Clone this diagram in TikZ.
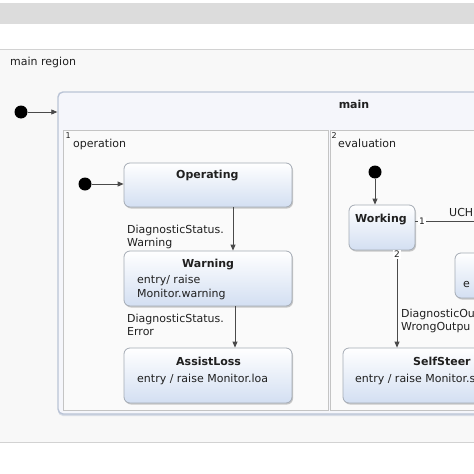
\documentclass[tikz,border=0pt]{standalone}
\usepackage{fontspec}
\setmainfont{DejaVu Sans}
\usetikzlibrary{arrows.meta,shadows}
\definecolor{barcol}{HTML}{DCDCDC}
\definecolor{regbg}{HTML}{F8F8F8}
\definecolor{regline}{HTML}{D2D2D2}
\definecolor{mainbg}{HTML}{F5F6FB}
\definecolor{mainline}{HTML}{BAC4D6}
\definecolor{subreg}{HTML}{FAFAFA}
\definecolor{subline}{HTML}{C4C4C4}
\definecolor{stateline}{HTML}{A4ABB5}
\definecolor{statebot}{HTML}{D3DFF2}
\definecolor{trcol}{HTML}{4A4A4A}
\definecolor{txt}{HTML}{202020}
\tikzset{
  txtstyle/.style={inner sep=0pt, anchor=base west, text=txt, font=\fontsize{11}{13.5}\selectfont},
  boldtxt/.style={txtstyle, font=\fontsize{11}{13.5}\selectfont\bfseries},
  supstyle/.style={inner sep=0pt, anchor=base west, text=txt, font=\fontsize{8}{9}\selectfont},
  statebox/.style={draw=stateline, line width=0.8pt, rounded corners=6pt, top color=white, bottom color=statebot,
     inner sep=0pt, drop shadow={shadow xshift=1pt, shadow yshift=-1.5pt, fill=black!35, opacity=0.6}},
  initdot/.style={circle, fill=black, inner sep=0pt, minimum size=13pt},
  tr/.style={draw=trcol, line width=0.8pt, -{Triangle[length=6pt,width=5pt]}},
  trplain/.style={draw=trcol, line width=0.8pt},
  numlab/.style={fill=white, inner sep=1pt, text=txt, font=\fontsize{9}{10}\selectfont},
}
\begin{document}
\begin{tikzpicture}[x=1pt,y=-1pt]
\useasboundingbox (0,0) rectangle (474,474);
\clip (0,0) rectangle (474,474);
\fill[white] (0,0) rectangle (474,474);
% top bar
\fill[barcol] (-5,3) rectangle (480,24);
% main region
\node[draw=regline, fill=regbg, line width=1pt, minimum width=490pt, minimum height=393pt, inner sep=0pt] (mainregion) at (235,245.5) {};
\node[txtstyle] (mainregionlab) at (10,65) {main region};
% main state
\node[draw=mainline, fill=mainbg, line width=1.4pt, rounded corners=5pt, minimum width=440pt, minimum height=322pt, inner sep=0pt,
      drop shadow={shadow xshift=0pt, shadow yshift=-2pt, fill=mainline}] (main) at (278,253) {};
\node[boldtxt, anchor=base] (mainlab) at (354,108.5) {main};
% regions
\node[draw=subline, fill=subreg, line width=0.8pt, minimum width=265pt, minimum height=280pt, inner sep=0pt] (reg1) at (195.5,270) {};
\node[draw=subline, fill=subreg, line width=0.8pt, minimum width=160pt, minimum height=280pt, inner sep=0pt] (reg2) at (410,270) {};
\node[supstyle] (r1num) at (65.5,138.5) {1};
\node[txtstyle] (r1lab) at (73,147) {operation};
\node[supstyle] (r2num) at (331.5,138.5) {2};
\node[txtstyle] (r2lab) at (338,147) {evaluation};
% initial of main region
\node[initdot] (minit) at (21,112) {};
\draw[tr] (minit) -- (minit -| main.west);
% operation region
\node[initdot] (oinit) at (85,184) {};
\node[statebox, minimum width=168pt, minimum height=44pt] (Operating) at (208,185) {};
\node[boldtxt] (Operatinglab) at (176,178.5) {Operating};
\draw[tr] (oinit) -- (oinit -| Operating.west);
\node[statebox, minimum width=168pt, minimum height=55pt] (Warning) at (208,278.5) {};
\node[boldtxt] (Warninglab) at (182,267) {Warning};
\node[txtstyle] (Warninge1) at (137,283) {entry/ raise};
\node[txtstyle] (Warninge2) at (137,297) {Monitor.warning};
\node[statebox, minimum width=168pt, minimum height=55pt] (AssistLoss) at (208,375.5) {};
\node[boldtxt] (AssistLosslab) at (176,365) {AssistLoss};
\node[txtstyle] (AssistLosse) at (137,382) {entry / raise Monitor.loa};
\draw[tr] ([xshift=25pt]Operating.south) -- ([xshift=25pt]Warning.north);
\node[txtstyle] (t1a) at (127,233) {DiagnosticStatus.};
\node[txtstyle] (t1b) at (127,246.5) {Warning};
\draw[tr] ([xshift=27pt]Warning.south) -- ([xshift=27pt]AssistLoss.north);
\node[txtstyle] (t2a) at (127,322) {DiagnosticStatus.};
\node[txtstyle] (t2b) at (127,335.5) {Error};
% evaluation region
\node[initdot] (einit) at (375,172) {};
\node[statebox, minimum width=66pt, minimum height=45pt] (Working) at (382,227.5) {};
\node[boldtxt] (Workinglab) at (355,222) {Working};
\draw[tr] (einit) -- (einit |- Working.north);
\node[statebox, minimum width=45pt, minimum height=45pt] (Other) at (477.5,275.5) {};
\node[txtstyle] (Othere) at (463,287) {e};
\node[statebox, minimum width=150pt, minimum height=55pt] (SelfSteer) at (418,375.5) {};
\node[boldtxt] (SelfSteerlab) at (413,365) {SelfSteer};
\node[txtstyle] (SelfSteere) at (355,382) {entry / raise Monitor.s};
\coordinate (c1) at (480,221);
\draw[trplain] ([yshift=6.5pt]Working.east) -- (c1);
\node[numlab] (n1) at (422,221) {1};
\node[txtstyle] (t3a) at (449,216) {UCH};
\draw[tr] ([xshift=15pt]Working.south) -- ([xshift=15pt]Working.south |- SelfSteer.north);
\node[numlab] (n2) at (397,254.5) {2};
\node[txtstyle] (t4a) at (401,317) {DiagnosticOu};
\node[txtstyle] (t4b) at (401,330) {WrongOutpu};
\end{tikzpicture}
\end{document}
